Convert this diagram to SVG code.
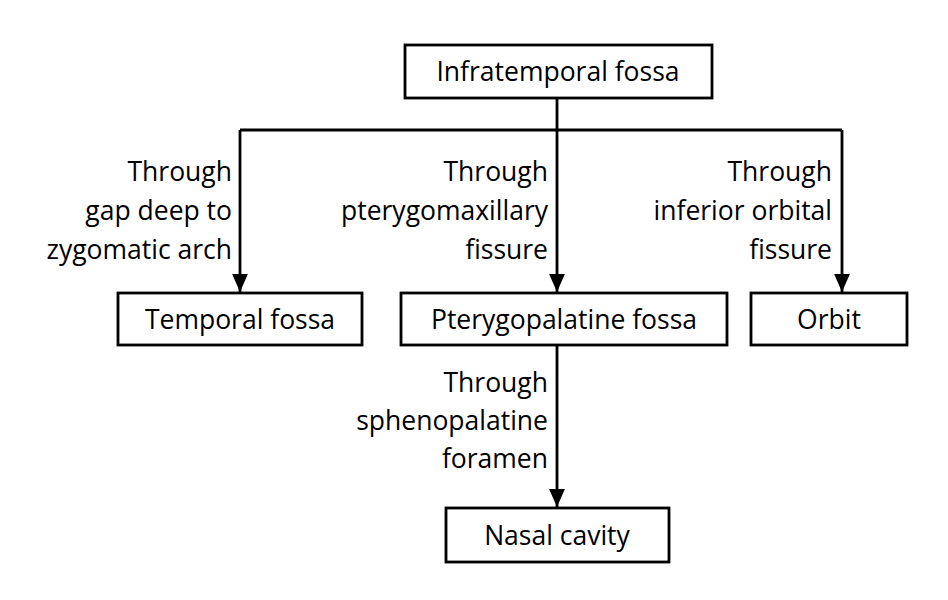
<svg xmlns="http://www.w3.org/2000/svg" width="948" height="600" viewBox="0 0 948 600">
<style>
.box{fill:#fff;stroke:#000;stroke-width:2.8}
.t{font-family:"Open Sans","Liberation Sans",sans-serif;font-size:26.5px;fill:#000}
.c{text-anchor:middle}
.r{text-anchor:end}
.ln{stroke:#000;stroke-width:2.8;fill:none}
</style>
<defs>
<marker id="ar" markerWidth="18" markerHeight="18" refX="16" refY="7" orient="auto" markerUnits="userSpaceOnUse" viewBox="0 0 16 14"><path d="M0,0 L16,7 L0,14 Z" fill="#000"/></marker></defs>
<rect width="948" height="600" fill="#fff"/>
<g id="connectors">
<path class="ln" d="M557,98 V292" marker-end="url(#ar)"/>
<path class="ln" d="M240,130 H842"/>
<path class="ln" d="M240,130 V292" marker-end="url(#ar)"/>
<path class="ln" d="M842,130 V292" marker-end="url(#ar)"/>
<path class="ln" d="M557,345 V507" marker-end="url(#ar)"/>
<text class="t r" x="232" y="181">Through</text>
<text class="t r" x="232" y="220">gap deep to</text>
<text class="t r" x="232" y="259">zygomatic arch</text>
<text class="t r" x="548" y="181">Through</text>
<text class="t r" x="548" y="220">pterygomaxillary</text>
<text class="t r" x="548" y="259">fissure</text>
<text class="t r" x="832" y="181">Through</text>
<text class="t r" x="832" y="220">inferior orbital</text>
<text class="t r" x="832" y="259">fissure</text>
<text class="t r" x="548" y="392">Through</text>
<text class="t r" x="548" y="430">sphenopalatine</text>
<text class="t r" x="548" y="468">foramen</text>
</g>
<g id="infratemporal"><rect class="box" x="405" y="45" width="307" height="53"/><text class="t c" x="558" y="81">Infratemporal fossa</text></g>
<g id="temporal"><rect class="box" x="118" y="293" width="244" height="52"/><text class="t c" x="240" y="329">Temporal fossa</text></g>
<g id="pterygopalatine"><rect class="box" x="401" y="293" width="326" height="52"/><text class="t c" x="564" y="329">Pterygopalatine fossa</text></g>
<g id="orbit"><rect class="box" x="751" y="293" width="156" height="52"/><text class="t c" x="829" y="329">Orbit</text></g>
<g id="nasal"><rect class="box" x="446" y="508" width="223" height="54"/><text class="t c" x="557" y="545">Nasal cavity</text></g>
</svg>
